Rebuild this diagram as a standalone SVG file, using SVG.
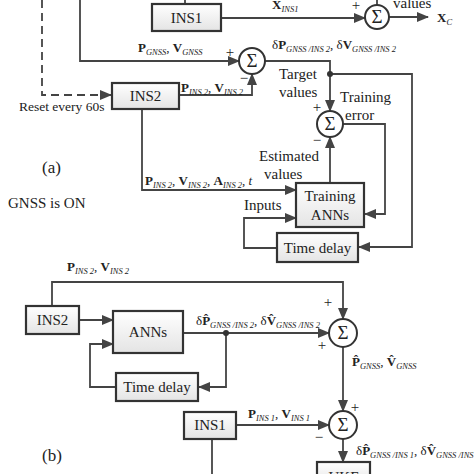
<svg xmlns="http://www.w3.org/2000/svg" width="474" height="474" viewBox="0 0 474 474" font-family="'Liberation Serif', 'DejaVu Serif', serif">
<style>
text{font-family:'Liberation Serif','DejaVu Serif',serif;fill:#222}
.t{font-size:15px}
.c{text-anchor:middle}
.lb{font-size:13px}
.b{font-weight:bold}
.s{font-style:italic;font-size:8.5px}
.box{fill:url(#g);stroke:#333;stroke-width:2.2}
.sum{fill:#fff;stroke:#333;stroke-width:2}
.w{fill:none;stroke:#444;stroke-width:1.8}
.a{marker-end:url(#ar)}
.d{stroke-dasharray:8 5}
.dot{fill:#333}
.sig{font-size:19px;text-anchor:middle}
.pm{font-size:15px;text-anchor:middle}
</style>
<defs>
<linearGradient id="g" x1="0" y1="0" x2="0" y2="1">
<stop offset="0" stop-color="#ffffff"/>
<stop offset="1" stop-color="#e4e4e4"/>
</linearGradient>
<marker id="ar" markerUnits="userSpaceOnUse" markerWidth="12" markerHeight="10" refX="11" refY="5" orient="auto">
<path d="M0,0 L12,5 L0,10 Z" fill="#444"/>
</marker>
</defs>
<rect width="474" height="474" fill="#fff"/>

<g id="connectors">
<path class="w d a" d="M42,0 V95 H111"/>
<path class="w a" d="M80,0 V61 H239"/>
<path class="w" d="M185,0 V4"/>
<path class="w a" d="M221,18 H365"/>
<path class="w" d="M377,0 V5"/>
<path class="w a" d="M389,17 H428"/>
<path class="w a" d="M179,95 H252 V74"/>
<path class="w a" d="M265,61 H330 V111"/>
<path class="w a" d="M330,74 H412 V247 H359"/>
<path class="w a" d="M343,124 H385 V214 H365"/>
<path class="w a" d="M330,183 V137"/>
<path class="w a" d="M142,109 V190 H296"/>
<path class="w a" d="M277,248 H244 V218 H296"/>
<circle class="dot" cx="330" cy="74" r="3"/>

<path class="w a" d="M52,306 V282 H343 V319"/>
<path class="w a" d="M79,320 H113"/>
<path class="w a" d="M183,333 H329"/>
<path class="w a" d="M226,333 V387 H199"/>
<path class="w a" d="M116,387 H90 V344 H113"/>
<path class="w a" d="M343,347 V411"/>
<path class="w a" d="M236,425 H329"/>
<path class="w a" d="M343,439 V462"/>
<path class="w" d="M212,439 V474"/>
<circle class="dot" cx="226" cy="333" r="3"/>
</g>

<g id="ins1a"><rect class="box" x="152" y="4" width="69" height="27"/><text class="t c" x="186.5" y="23">INS1</text></g>
<g id="ins2a"><rect class="box" x="112" y="83" width="67" height="26"/><text class="t c" x="145.5" y="101">INS2</text></g>
<g id="trainann"><rect class="box" x="296" y="183" width="68" height="44"/><text class="t c" x="330" y="201">Training</text><text class="t c" x="330" y="220">ANNs</text></g>
<g id="delaya"><rect class="box" x="277" y="233" width="81" height="29"/><text class="t c" x="317.5" y="253">Time delay</text></g>
<g id="sum1"><circle class="sum" cx="377" cy="17" r="12"/><text class="sig" x="377" y="23">Σ</text></g>
<g id="sum2"><circle class="sum" cx="252" cy="61" r="13"/><text class="sig" x="252" y="67">Σ</text></g>
<g id="sum3"><circle class="sum" cx="330" cy="124" r="13"/><text class="sig" x="330" y="130">Σ</text></g>

<g id="ins2b"><rect class="box" x="26" y="306" width="53" height="28"/><text class="t c" x="52.5" y="325">INS2</text></g>
<g id="anns"><rect class="box" x="113" y="311" width="70" height="42"/><text class="t c" x="148" y="337">ANNs</text></g>
<g id="delayb"><rect class="box" x="116" y="373" width="82" height="28"/><text class="t c" x="157" y="392">Time delay</text></g>
<g id="ins1b"><rect class="box" x="184" y="412" width="52" height="27"/><text class="t c" x="210" y="430">INS1</text></g>
<g id="ukf"><rect class="box" x="317" y="462" width="53" height="24"/><text class="t c" x="343.5" y="482">UKF</text></g>
<g id="sum4"><circle class="sum" cx="343" cy="333" r="14"/><text class="sig" x="343" y="339">Σ</text></g>
<g id="sum5"><circle class="sum" cx="343" cy="425" r="14"/><text class="sig" x="343" y="431">Σ</text></g>

<g id="labels">
<text class="lb" x="272" y="9"><tspan class="b">X</tspan><tspan class="s" dy="3">INS1</tspan></text>
<text class="t" x="393" y="8">values</text>
<text class="lb" x="437" y="22"><tspan class="b">X</tspan><tspan class="s" dy="3">C</tspan></text>
<text class="pm" x="356" y="10">+</text>
<text class="lb" x="138" y="52"><tspan class="b">P</tspan><tspan class="s" dy="3">GNSS</tspan><tspan dy="-3">, </tspan><tspan class="b">V</tspan><tspan class="s" dy="3">GNSS</tspan></text>
<text class="pm" x="230" y="57">+</text>
<text class="lb" x="181" y="92"><tspan class="b">P</tspan><tspan class="s" dy="3">INS 2</tspan><tspan dy="-3">, </tspan><tspan class="b">V</tspan><tspan class="s" dy="3">INS 2</tspan></text>
<text class="pm" x="244" y="83">−</text>
<text class="lb" x="272" y="49"><tspan>δ</tspan><tspan class="b">P</tspan><tspan class="s" dy="3">GNSS /INS 2</tspan><tspan dy="-3">, δ</tspan><tspan class="b">V</tspan><tspan class="s" dy="3">GNSS /INS 2</tspan></text>
<text class="t" x="279" y="79">Target</text>
<text class="t" x="279" y="97">values</text>
<text class="t" x="340" y="102">Training</text>
<text class="t" x="345" y="120">error</text>
<text class="pm" x="317" y="112">+</text>
<text class="pm" x="317" y="145">−</text>
<text class="t" x="259" y="161">Estimated</text>
<text class="t" x="264" y="179">values</text>
<text class="lb" x="145" y="185"><tspan class="b">P</tspan><tspan class="s" dy="3">INS 2</tspan><tspan dy="-3">, </tspan><tspan class="b">V</tspan><tspan class="s" dy="3">INS 2</tspan><tspan dy="-3">, </tspan><tspan class="b">A</tspan><tspan class="s" dy="3">INS 2</tspan><tspan dy="-3">, </tspan><tspan font-style="italic">t</tspan></text>
<text class="t" x="244" y="210">Inputs</text>
<text font-size="13.5" x="19" y="111">Reset every 60s</text>
<text font-size="17" x="42" y="173">(a)</text>
<text class="t" x="8" y="208">GNSS is ON</text>

<text class="lb" x="67" y="271"><tspan class="b">P</tspan><tspan class="s" dy="3">INS 2</tspan><tspan dy="-3">, </tspan><tspan class="b">V</tspan><tspan class="s" dy="3">INS 2</tspan></text>
<text class="lb" x="196" y="325"><tspan>δ</tspan><tspan class="b">P̂</tspan><tspan class="s" dy="3">GNSS /INS 2</tspan><tspan dy="-3">, δ</tspan><tspan class="b">V̂</tspan><tspan class="s" dy="3">GNSS /INS 2</tspan></text>
<text class="pm" x="328" y="307">+</text>
<text class="pm" x="322" y="350">+</text>
<text class="lb" x="352" y="366"><tspan class="b">P̂</tspan><tspan class="s" dy="3">GNSS</tspan><tspan dy="-3">, </tspan><tspan class="b">V̂</tspan><tspan class="s" dy="3">GNSS</tspan></text>
<text class="lb" x="248" y="418"><tspan class="b">P</tspan><tspan class="s" dy="3">INS 1</tspan><tspan dy="-3">, </tspan><tspan class="b">V</tspan><tspan class="s" dy="3">INS 1</tspan></text>
<text class="pm" x="355" y="412">+</text>
<text class="pm" x="319" y="442">−</text>
<text class="lb" x="356" y="455"><tspan>δ</tspan><tspan class="b">P̂</tspan><tspan class="s" dy="3">GNSS /INS 1</tspan><tspan dy="-3">, δ</tspan><tspan class="b">V̂</tspan><tspan class="s" dy="3">GNSS /INS 1</tspan></text>
<text font-size="17" x="42" y="461">(b)</text>
</g>
</svg>
